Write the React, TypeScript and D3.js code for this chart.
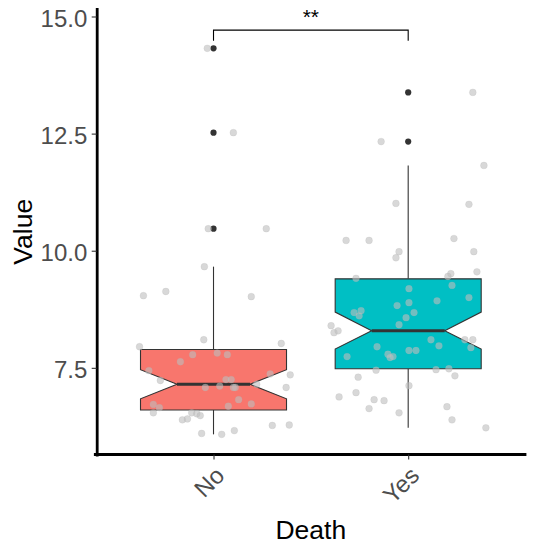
import { useRef, useEffect } from "react";
import * as d3 from "d3";

// groups on the x axis
const groups = ["No", "Yes"];

// box statistics (Value units)
const q1 = [6.6, 7.48];
const medians = [7.15, 8.29];
const q3 = [7.89, 9.4];
const notchLow = [6.84, 7.9];
const notchHigh = [7.46, 8.69];
const whiskerLow = [6.08, 6.22];
const whiskerHigh = [9.66, 11.82];
const outliersNo = [14.32, 12.52, 10.47];
const outliersYes = [13.38, 12.33];

// jittered raw observations: offset from the group centre (share of a step) and value
const noOffsets = [
  -0.027, 0.271, -0.047, -0.36, -0.245, 0.194, -0.05, -0.38, 0.348, -0.107, 0.019,
  0.071, -0.17, -0.332, 0.291, 0.394, -0.273, 0.064, 0.091, 0.222, -0.042, 0.032,
  0.102, 0.112, 0.373, 0.129, -0.309, -0.278, 0.194, 0.076, -0.309, -0.112, -0.086,
  -0.068, -0.16, -0.134, 0.302, 0.389, -0.061, 0.042, 0.107, -0.032, 0.102,
];
const noValues = [
  10.47, 10.47, 9.66, 9.04, 9.13, 9.02, 8.1, 7.95, 8.02, 7.78, 7.815,
  7.78, 7.63, 7.44, 7.37, 7.35, 7.23, 7.25, 7.25, 7.15, 7.08, 7.11,
  7.08, 7.08, 7.08, 6.82, 6.72, 6.65, 6.73, 6.68, 6.54, 6.54, 6.52,
  6.48, 6.39, 6.41, 6.27, 6.28, 6.1, 6.08, 6.16, 14.32, 12.52,
];
const yesOffsets = [
  0.332, -0.139, 0.389, -0.063, 0.312, -0.319, -0.201, 0.235, -0.047, -0.063, 0.337,
  0.353, 0.219, 0.204, -0.268, 0.004, 0.225, -0.057, 0.004, 0.148, 0.312, -0.278,
  -0.242, -0.252, 0.03, -0.011, -0.047, -0.396, -0.381, -0.36, 0.117, 0.291, 0.332,
  0.158, 0.322, -0.16, 0.004, 0.04, -0.104, -0.093, -0.078, -0.314, -0.165, 0.143,
  0.209, 0.24, -0.257, 0.004, -0.268, -0.355, -0.175, -0.124, -0.201, 0.199, -0.047,
  0.225, 0.399,
];
const yesValues = [
  13.38, 12.33, 11.82, 11.01, 10.99, 10.22, 10.22, 10.26, 9.98, 9.85, 9.98,
  9.55, 9.51, 9.45, 9.41, 9.19, 9.26, 8.83, 8.89, 8.93, 9.0, 8.68,
  8.72, 8.61, 8.68, 8.57, 8.42, 8.4, 8.25, 8.29, 8.1, 8.1, 8.1,
  7.97, 7.93, 7.95, 7.87, 7.87, 7.79, 7.72, 7.74, 7.74, 7.45, 7.46,
  7.48, 7.33, 7.3, 7.12, 6.97, 6.88, 6.82, 6.8, 6.63, 6.67, 6.54,
  6.39, 6.22,
];

const yTicks = [7.5, 10, 12.5, 15];
const sigLabel = "**";
const sigBarValue = 14.71;
const sigTipValue = 14.48;

const WIDTH = 535;
const HEIGHT = 550;
const FONT = "'Liberation Sans', Arial, sans-serif";

export default function App() {
  const svgRef = useRef<SVGSVGElement>(null);

  useEffect(() => {
    if (!svgRef.current) return;
    const svg = d3.select(svgRef.current);
    svg.selectAll("*").remove();

    const left = 96.7, right = 525, top = 9, bottom = 454.5;

    const x = d3.scalePoint<string>().domain(groups).range([left, right]).padding(0.6);
    const step = x.step();
    const y = d3.scaleLinear().domain([5.65, 15.16]).range([bottom, top]);

    const fill = d3.scaleOrdinal<string, string>().domain(groups).range(["#F8766D", "#00BFC4"]);
    const outliers = [outliersNo, outliersYes];

    // Boxes
    groups.forEach((g, i) => {
      const cx = x(g)!;
      const hw = (step * 0.75) / 2;
      const nw = hw * 0.5;
      const box = svg.append("g");

      box.append("line")
        .attr("x1", cx).attr("x2", cx).attr("y1", y(q3[i])).attr("y2", y(whiskerHigh[i]))
        .attr("stroke", "#333333").attr("stroke-width", 1.1);
      box.append("line")
        .attr("x1", cx).attr("x2", cx).attr("y1", y(q1[i])).attr("y2", y(whiskerLow[i]))
        .attr("stroke", "#333333").attr("stroke-width", 1.1);

      const pts: [number, number][] = [
        [cx - hw, y(q3[i])], [cx - hw, y(notchHigh[i])], [cx - nw, y(medians[i])],
        [cx - hw, y(notchLow[i])], [cx - hw, y(q1[i])], [cx + hw, y(q1[i])],
        [cx + hw, y(notchLow[i])], [cx + nw, y(medians[i])], [cx + hw, y(notchHigh[i])],
        [cx + hw, y(q3[i])],
      ];
      box.append("polygon")
        .attr("points", pts.map(p => p.join(",")).join(" "))
        .attr("fill", fill(g)).attr("stroke", "#333333").attr("stroke-width", 1.1);

      box.append("line")
        .attr("x1", cx - nw).attr("x2", cx + nw).attr("y1", y(medians[i])).attr("y2", y(medians[i]))
        .attr("stroke", "#333333").attr("stroke-width", 3);

      box.selectAll("circle.out").data(outliers[i]).join("circle")
        .attr("cx", cx).attr("cy", d => y(d)).attr("r", 3.1).attr("fill", "#333333");
    });

    // Jittered points
    const jitter = [
      noOffsets.map((o, k) => ({ g: "No", o, v: noValues[k] })),
      yesOffsets.map((o, k) => ({ g: "Yes", o, v: yesValues[k] })),
    ].flat();
    svg.append("g").selectAll("circle").data(jitter).join("circle")
      .attr("cx", d => x(d.g)! + d.o * step).attr("cy", d => y(d.v)).attr("r", 3.4)
      .attr("fill", "#BEBEBE").attr("fill-opacity", 0.6)
      .attr("stroke", "#B0B0B0").attr("stroke-opacity", 0.35).attr("stroke-width", 0.6);

    // Significance bracket
    const xa = x(groups[0])!, xb = x(groups[1])!;
    svg.append("path")
      .attr("d", `M${xa},${y(sigTipValue)}V${y(sigBarValue)}H${xb}V${y(sigTipValue)}`)
      .attr("fill", "none").attr("stroke", "#000").attr("stroke-width", 1.1);
    svg.append("text")
      .attr("x", (xa + xb) / 2).attr("y", y(sigBarValue) - 6.5)
      .attr("text-anchor", "middle").attr("font-size", "21px").attr("font-family", FONT)
      .attr("fill", "#000").text(sigLabel);

    // Y axis
    const yAxis = svg.append("g").attr("transform", `translate(${left},0)`)
      .call(d3.axisLeft(y).tickValues(yTicks).tickFormat(d3.format(".1f")).tickSize(5).tickPadding(4.4).tickSizeOuter(0));
    yAxis.select(".domain").attr("stroke", "#000").attr("stroke-width", 2.8).attr("stroke-linecap", "square");
    yAxis.selectAll(".tick line").attr("stroke", "#333333").attr("stroke-width", 1.1);
    yAxis.selectAll(".tick text")
      .attr("fill", "#4D4D4D").attr("font-size", "24px").attr("font-family", FONT)
      .attr("dy", null).attr("y", 9.6);

    // X axis
    const xAxis = svg.append("g").attr("transform", `translate(0,${bottom})`)
      .call(d3.axisBottom(x).tickSize(5).tickSizeOuter(0).tickFormat(() => ""));
    xAxis.select(".domain").attr("stroke", "#000").attr("stroke-width", 2.8).attr("stroke-linecap", "square")
      .attr("d", `M${left - 1.4},0H${right}`);
    xAxis.selectAll(".tick line").attr("stroke", "#333333").attr("stroke-width", 1.1);

    svg.append("g").selectAll("text").data(groups).join("text")
      .attr("transform", d => `translate(${x(d)! + 12.5},${bottom + 22.5}) rotate(-45)`)
      .attr("text-anchor", "end").attr("font-size", "24px").attr("font-family", FONT)
      .attr("fill", "#4D4D4D").text(d => d);

    // Axis titles
    svg.append("text")
      .attr("x", (left + right) / 2).attr("y", 538.5)
      .attr("text-anchor", "middle").attr("font-size", "26.5px").attr("font-family", FONT)
      .attr("fill", "#000").text("Death");
    svg.append("text")
      .attr("transform", `translate(32.3,${(top + bottom) / 2}) rotate(-90)`)
      .attr("text-anchor", "middle").attr("font-size", "26.5px").attr("font-family", FONT)
      .attr("fill", "#000").text("Value");
  }, []);

  return (
    <svg
      ref={svgRef}
      width={WIDTH}
      height={HEIGHT}
      style={{ position: "absolute", left: 0, top: 0, background: "#fff" }}
    />
  );
}
